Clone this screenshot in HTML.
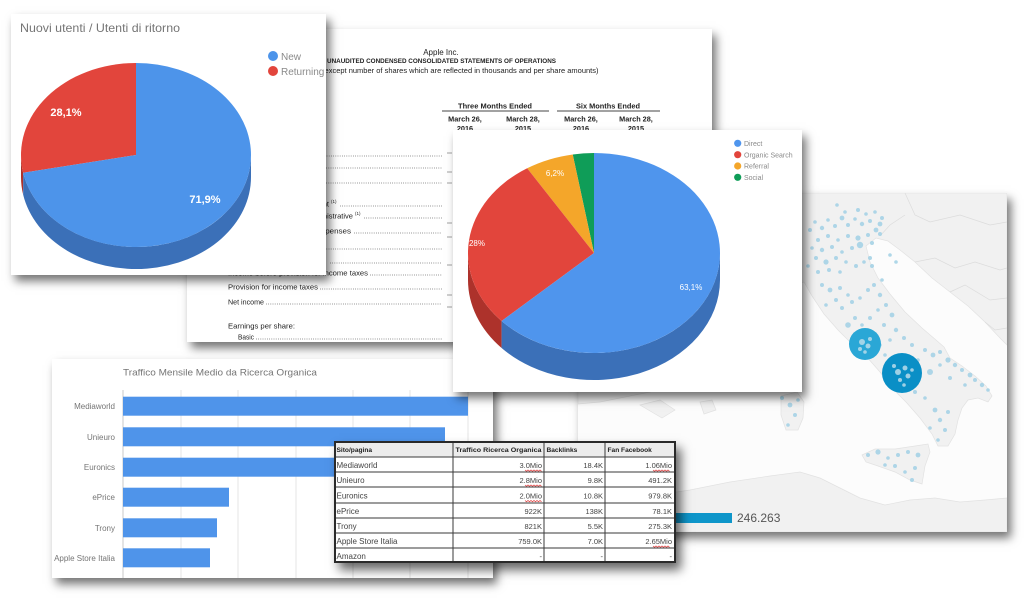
<!DOCTYPE html>
<html><head><meta charset="utf-8">
<style>
html,body{margin:0;padding:0;}
body{width:1024px;height:598px;background:#fff;position:relative;overflow:hidden;font-family:"Liberation Sans",sans-serif;}
.p{position:absolute;background:#fff;box-shadow:4px 6px 9px rgba(0,0,0,0.55);}
.p svg{position:absolute;left:0;top:0;display:block;}
</style></head>
<body>

<!-- MAP -->
<div class="p" style="left:578px;top:193px;width:429px;height:339px;z-index:1;background:#fcfcfc;">
<svg width="429" height="339" viewBox="0 0 429 339">
<g transform="translate(-578,-193)">
<polygon fill="#f1f1f1" stroke="#e2e2e2" stroke-width="0.7" points="578,193 1007,193 1007,345 1000,338 985,322 968,306 950,292 932,278 915,262 900,250 888,241 876,238 866,246 870,262 878,278 890,294 905,312 922,328 936,340 944,347 950,358 962,366 975,376 986,386 992,396 988,402 978,398 968,400 962,408 958,420 955,434 948,446 938,446 932,434 920,418 906,402 892,388 880,372 866,356 852,344 838,330 824,314 812,296 804,282 790,285 760,300 730,320 700,350 680,375 650,392 620,398 600,402 578,404"/>
<polyline fill="none" stroke="#dcdcdc" stroke-width="0.7" points="905,193 915,215 930,222 960,215 990,225 1007,222"/>
<polyline fill="none" stroke="#dcdcdc" stroke-width="0.7" points="915,262 935,258 955,268 975,262 1000,270 1007,268"/>
<polyline fill="none" stroke="#dcdcdc" stroke-width="0.7" points="950,292 965,285 990,300 1007,298"/>
<polyline fill="none" stroke="#dcdcdc" stroke-width="0.7" points="880,236 890,225 905,215"/>
<polyline fill="none" stroke="#dcdcdc" stroke-width="0.7" points="985,322 995,330 1007,328"/>
<polygon fill="#f1f1f1" stroke="#e2e2e2" stroke-width="0.7" points="781,396 797,392 804,402 803,418 798,430 786,430 781,415"/>
<polygon fill="#f1f1f1" stroke="#e2e2e2" stroke-width="0.7" points="862,455 875,449 895,449 915,446 928,444 930,452 925,466 922,484 910,480 895,472 878,466 866,462"/>
<polygon fill="#f1f1f1" stroke="#e2e2e2" stroke-width="0.7" points="578,505 610,500 650,496 690,490 730,482 770,476 800,472 820,478 840,488 860,498 885,505 910,500 935,498 960,502 985,500 1007,498 1007,532 578,532"/>
<polygon fill="#f1f1f1" stroke="#e2e2e2" stroke-width="0.7" points="640,405 660,400 675,410 662,418"/>
<polygon fill="#f1f1f1" stroke="#e2e2e2" stroke-width="0.7" points="700,402 712,400 716,410 704,414"/>
<g fill="#a6d3e6" opacity="0.9">
<circle cx="810" cy="230" r="2"/><circle cx="815" cy="222" r="1.8"/><circle cx="822" cy="228" r="2.2"/><circle cx="828" cy="220" r="1.8"/><circle cx="835" cy="226" r="2"/><circle cx="842" cy="218" r="2.4"/><circle cx="848" cy="225" r="2"/><circle cx="855" cy="219" r="1.8"/><circle cx="862" cy="224" r="2.2"/><circle cx="870" cy="221" r="2"/><circle cx="876" cy="230" r="2.4"/><circle cx="868" cy="235" r="2"/><circle cx="858" cy="238" r="2.6"/><circle cx="848" cy="236" r="2"/><circle cx="838" cy="240" r="1.8"/><circle cx="828" cy="236" r="2"/><circle cx="818" cy="240" r="2"/><circle cx="812" cy="248" r="1.8"/><circle cx="822" cy="250" r="2.2"/><circle cx="832" cy="247" r="2"/><circle cx="842" cy="252" r="1.8"/><circle cx="852" cy="248" r="2"/><circle cx="860" cy="245" r="3.2"/><circle cx="872" cy="243" r="2"/><circle cx="880" cy="224" r="2.4"/><circle cx="837" cy="205" r="1.8"/><circle cx="845" cy="212" r="1.8"/><circle cx="858" cy="210" r="2"/><circle cx="866" cy="214" r="1.8"/><circle cx="875" cy="212" r="1.8"/><circle cx="882" cy="218" r="2"/><circle cx="880" cy="234" r="2"/><circle cx="816" cy="258" r="2"/><circle cx="826" cy="262" r="2.6"/><circle cx="836" cy="258" r="2"/><circle cx="846" cy="262" r="1.8"/><circle cx="856" cy="266" r="2"/><circle cx="864" cy="262" r="1.8"/><circle cx="870" cy="258" r="2"/><circle cx="808" cy="266" r="1.8"/><circle cx="818" cy="272" r="2"/><circle cx="829" cy="270" r="2"/><circle cx="840" cy="272" r="1.8"/>
<circle cx="822" cy="285" r="2"/><circle cx="830" cy="290" r="2.4"/><circle cx="840" cy="288" r="2"/><circle cx="848" cy="295" r="1.8"/><circle cx="836" cy="300" r="2"/><circle cx="826" cy="305" r="1.8"/><circle cx="842" cy="308" r="2"/><circle cx="852" cy="302" r="2"/><circle cx="860" cy="298" r="1.8"/><circle cx="868" cy="290" r="2"/><circle cx="874" cy="285" r="2"/><circle cx="880" cy="295" r="2.2"/><circle cx="886" cy="305" r="2"/><circle cx="892" cy="315" r="2.4"/><circle cx="878" cy="310" r="1.8"/><circle cx="870" cy="318" r="2"/><circle cx="862" cy="325" r="1.8"/><circle cx="855" cy="318" r="2"/><circle cx="848" cy="325" r="2.8"/><circle cx="884" cy="325" r="2"/><circle cx="896" cy="330" r="2.2"/><circle cx="904" cy="338" r="2"/><circle cx="912" cy="345" r="2"/><circle cx="890" cy="340" r="1.8"/><circle cx="880" cy="345" r="1.8"/><circle cx="885" cy="355" r="1.8"/>
<circle cx="925" cy="350" r="2"/><circle cx="933" cy="355" r="2.4"/><circle cx="940" cy="352" r="2"/><circle cx="948" cy="360" r="2.6"/><circle cx="955" cy="365" r="2.2"/><circle cx="962" cy="370" r="2"/><circle cx="970" cy="375" r="2.4"/><circle cx="975" cy="380" r="2"/><circle cx="982" cy="385" r="2.2"/><circle cx="988" cy="390" r="1.8"/><circle cx="940" cy="365" r="1.8"/><circle cx="930" cy="372" r="3"/><circle cx="918" cy="360" r="1.8"/><circle cx="950" cy="378" r="2"/><circle cx="965" cy="385" r="1.8"/>
<circle cx="935" cy="410" r="2.4"/><circle cx="940" cy="420" r="2.2"/><circle cx="945" cy="430" r="2"/><circle cx="938" cy="440" r="1.8"/><circle cx="948" cy="412" r="2"/><circle cx="925" cy="398" r="1.8"/><circle cx="915" cy="392" r="2"/><circle cx="930" cy="428" r="1.8"/>
<circle cx="868" cy="455" r="2"/><circle cx="878" cy="452" r="2.6"/><circle cx="888" cy="458" r="1.8"/><circle cx="898" cy="455" r="2"/><circle cx="908" cy="452" r="2"/><circle cx="918" cy="455" r="2.4"/><circle cx="915" cy="468" r="2"/><circle cx="905" cy="472" r="1.8"/><circle cx="895" cy="466" r="2"/><circle cx="885" cy="465" r="1.8"/><circle cx="912" cy="480" r="2"/>
<circle cx="782" cy="398" r="2"/><circle cx="790" cy="405" r="2.4"/><circle cx="795" cy="415" r="2"/><circle cx="788" cy="425" r="1.8"/><circle cx="798" cy="400" r="1.8"/>
<circle cx="890" cy="255" r="1.8"/><circle cx="896" cy="262" r="1.8"/><circle cx="872" cy="266" r="2"/><circle cx="882" cy="280" r="1.8"/>
</g>
<circle cx="865" cy="344" r="16" fill="#2aa7d6"/>
<circle cx="902" cy="373" r="20" fill="#0a8fc6"/>
<g fill="#b8dceb" opacity="0.85">
<circle cx="862" cy="342" r="3"/><circle cx="868" cy="346" r="2.5"/><circle cx="860" cy="349" r="2"/><circle cx="870" cy="339" r="2"/><circle cx="865" cy="352" r="1.8"/>
<circle cx="898" cy="372" r="3"/><circle cx="905" cy="368" r="2.5"/><circle cx="908" cy="376" r="2.5"/><circle cx="900" cy="380" r="2"/><circle cx="894" cy="366" r="2"/><circle cx="912" cy="370" r="1.8"/><circle cx="904" cy="385" r="1.8"/>
</g>
<rect x="600" y="513" width="132" height="10" fill="#0e96ca"/>
<text x="737" y="522" font-size="12" fill="#555">246.263</text>
</g>
</svg>
</div>

<!-- DOCUMENT -->
<div class="p" style="left:187px;top:29px;width:525px;height:313px;z-index:2;">
<svg width="525" height="313" viewBox="0 0 525 313">
<g transform="translate(-187,-29)" fill="#222" font-family="Liberation Sans, sans-serif">
<text x="441" y="55" text-anchor="middle" font-size="8">Apple Inc.</text>
<text x="441.5" y="63" text-anchor="middle" font-size="6.6" font-weight="bold" textLength="229" lengthAdjust="spacingAndGlyphs">UNAUDITED CONDENSED CONSOLIDATED STATEMENTS OF OPERATIONS</text>
<text x="441.5" y="73" text-anchor="middle" font-size="7.5" textLength="314" lengthAdjust="spacingAndGlyphs">(In millions, except number of shares which are reflected in thousands and per share amounts)</text>
<text x="495" y="108.5" text-anchor="middle" font-size="7.5" font-weight="bold" textLength="74" lengthAdjust="spacingAndGlyphs">Three Months Ended</text>
<text x="608" y="108.5" text-anchor="middle" font-size="7.5" font-weight="bold" textLength="64" lengthAdjust="spacingAndGlyphs">Six Months Ended</text>
<line x1="442" y1="111" x2="549" y2="111" stroke="#444" stroke-width="0.9"/>
<line x1="557" y1="111" x2="660" y2="111" stroke="#444" stroke-width="0.9"/>
<g font-size="7.3" font-weight="bold" text-anchor="middle">
<text x="465" y="121.5">March 26,</text><text x="523" y="121.5">March 28,</text><text x="581" y="121.5">March 26,</text><text x="636" y="121.5">March 28,</text>
<text x="465" y="131">2016</text><text x="523" y="131">2015</text><text x="581" y="131">2016</text><text x="636" y="131">2015</text>
</g>
<g font-size="7.5">
<text x="228" y="156.5">Net sales</text>
<text x="228" y="168.5">Cost of sales</text>
<text x="228" y="183.5">Gross margin</text>
<text x="238" y="206.5" textLength="91" lengthAdjust="spacingAndGlyphs">Research and development</text>
<text x="331" y="203" font-size="4.5">(1)</text>
<text x="238" y="218.5" textLength="115" lengthAdjust="spacingAndGlyphs">Selling, general and administrative</text>
<text x="355" y="215" font-size="4.5">(1)</text>
<text x="262" y="233.5" textLength="89" lengthAdjust="spacingAndGlyphs">Total operating expenses</text>
<text x="228" y="249.5">Operating income</text>
<text x="228" y="263.5">Other income/(expense), net</text>
<text x="228" y="275.5" textLength="140" lengthAdjust="spacingAndGlyphs">Income before provision for income taxes</text>
<text x="228" y="289.5" textLength="90" lengthAdjust="spacingAndGlyphs">Provision for income taxes</text>
<text x="228" y="304.5" textLength="36" lengthAdjust="spacingAndGlyphs">Net income</text>
<text x="228" y="328.5" textLength="67" lengthAdjust="spacingAndGlyphs">Earnings per share:</text>
<text x="238" y="339.5" textLength="16" lengthAdjust="spacingAndGlyphs">Basic</text>
</g>
<g stroke="#555" stroke-width="0.8" stroke-dasharray="0.8 1.4">
<line x1="265" y1="156" x2="442" y2="156"/>
<line x1="280" y1="168" x2="442" y2="168"/>
<line x1="280" y1="183" x2="442" y2="183"/>
<line x1="340" y1="206" x2="442" y2="206"/>
<line x1="364" y1="218" x2="442" y2="218"/>
<line x1="354" y1="233" x2="442" y2="233"/>
<line x1="300" y1="249" x2="442" y2="249"/>
<line x1="330" y1="263" x2="442" y2="263"/>
<line x1="370" y1="275" x2="442" y2="275"/>
<line x1="320" y1="289" x2="442" y2="289"/>
<line x1="266" y1="304" x2="442" y2="304"/>
<line x1="256" y1="339" x2="442" y2="339"/>
</g>
<g stroke="#888" stroke-width="0.8">
<line x1="447" y1="153" x2="452" y2="153"/><line x1="447" y1="172" x2="452" y2="172"/><line x1="447" y1="183" x2="452" y2="183"/><line x1="447" y1="223" x2="452" y2="223"/><line x1="447" y1="237" x2="452" y2="237"/><line x1="447" y1="265" x2="452" y2="265"/><line x1="447" y1="295" x2="452" y2="295"/><line x1="447" y1="307" x2="452" y2="307"/>
</g>
</g>
</svg>
</div>

<!-- PIE 1 -->
<div class="p" style="left:11px;top:14px;width:315px;height:261px;z-index:3;">
<svg width="315" height="261" viewBox="0 0 315 261">
<text x="9" y="18" font-size="12" fill="#757575" textLength="160" lengthAdjust="spacingAndGlyphs">Nuovi utenti / Utenti di ritorno</text>
<circle cx="262" cy="42" r="5" fill="#4d94ea"/>
<circle cx="262" cy="57" r="5" fill="#e2453c"/>
<text x="270" y="46" font-size="10" fill="#8a8a8a">New</text>
<text x="270" y="61" font-size="10" fill="#8a8a8a">Returning</text>
<path d="M10,141 A115,92 0 0 0 12.17,158.81 L12.17,180.81 A115,92 0 0 1 10,163 Z" fill="#ad322b"/>
<path d="M12.17,158.81 A115,92 0 0 0 240,141 L240,163 A115,92 0 0 1 12.17,180.81 Z" fill="#3b70b8"/>
<path d="M125,141 L125,49 A115,92 0 0 0 12.17,158.81 Z" fill="#e2453c"/>
<path d="M125,141 L12.17,158.81 A115,92 0 1 0 125,49 Z" fill="#4d94ea"/>
<text x="55" y="102" font-size="11" font-weight="bold" fill="#fff" text-anchor="middle">28,1%</text>
<text x="194" y="189" font-size="11" font-weight="bold" fill="#fff" text-anchor="middle">71,9%</text>
</svg>
</div>

<!-- BAR CHART -->
<div class="p" style="left:52px;top:359px;width:441px;height:219px;z-index:4;">
<svg width="441" height="219" viewBox="0 0 441 219">
<text x="71" y="16.5" font-size="9.5" fill="#757575" textLength="194" lengthAdjust="spacingAndGlyphs">Traffico Mensile Medio da Ricerca Organica</text>
<g stroke="#e4e4e4" stroke-width="1">
<line x1="129" y1="31" x2="129" y2="219"/><line x1="186" y1="31" x2="186" y2="219"/><line x1="244" y1="31" x2="244" y2="219"/><line x1="301" y1="31" x2="301" y2="219"/><line x1="358" y1="31" x2="358" y2="219"/><line x1="416" y1="31" x2="416" y2="219"/>
</g>
<line x1="71" y1="31" x2="71" y2="219" stroke="#c8c8c8" stroke-width="1"/>
<g fill="#4f94ea">
<rect x="71" y="37.7" width="345" height="19"/>
<rect x="71" y="68.3" width="322" height="19"/>
<rect x="71" y="98.7" width="230" height="19"/>
<rect x="71" y="128.7" width="106" height="19"/>
<rect x="71" y="159.3" width="94" height="19"/>
<rect x="71" y="189.3" width="87" height="19"/>
</g>
<g font-size="8" fill="#757575" text-anchor="end">
<text x="63" y="50">Mediaworld</text>
<text x="63" y="81">Unieuro</text>
<text x="63" y="111">Euronics</text>
<text x="63" y="141">ePrice</text>
<text x="63" y="172">Trony</text>
<text x="63" y="202">Apple Store Italia</text>
</g>
</svg>
</div>

<!-- PIE 2 -->
<div class="p" style="left:453px;top:130px;width:349px;height:262px;z-index:5;">
<svg width="349" height="262" viewBox="0 0 349 262">
<path d="M15,123 A126,100 0 0 0 48.60,190.99 L48.60,217.99 A126,100 0 0 1 15,150 Z" fill="#ad322b"/>
<path d="M48.60,190.99 A126,100 0 0 0 267,123 L267,150 A126,100 0 0 1 48.60,217.99 Z" fill="#3b70b8"/>
<path d="M141,123 L141,23 A126,100 0 0 0 119.72,24.44 Z" fill="#0f9d58"/>
<path d="M141,123 L119.72,24.44 A126,100 0 0 0 74.16,38.23 Z" fill="#f4a62a"/>
<path d="M141,123 L74.16,38.23 A126,100 0 0 0 48.60,190.99 Z" fill="#e2453c"/>
<path d="M141,123 L48.60,190.99 A126,100 0 1 0 141,23 Z" fill="#4f95ed"/>
<text x="102" y="46" font-size="8" fill="#fff" text-anchor="middle">6,2%</text>
<text x="24" y="116" font-size="8" fill="#fff" text-anchor="middle">28%</text>
<text x="238" y="160" font-size="8" fill="#fff" text-anchor="middle">63,1%</text>
<circle cx="284.7" cy="13.3" r="3.6" fill="#4f95ed"/>
<circle cx="284.7" cy="24.7" r="3.6" fill="#e2453c"/>
<circle cx="284.7" cy="36" r="3.6" fill="#f4a62a"/>
<circle cx="284.7" cy="47.3" r="3.6" fill="#0f9d58"/>
<g font-size="7" fill="#8a8a8a">
<text x="291" y="16">Direct</text>
<text x="291" y="27.4">Organic Search</text>
<text x="291" y="38.7">Referral</text>
<text x="291" y="50">Social</text>
</g>
</svg>
</div>

<!-- TABLE -->
<div class="p" style="left:334px;top:441px;width:342px;height:122px;z-index:6;box-shadow:5px 7px 10px rgba(0,0,0,0.6);">
<svg width="342" height="122" viewBox="0 0 342 122">
<rect x="0" y="0" width="342" height="16" fill="#ececec"/>
<g stroke="#3a3a3a" stroke-width="1">
<line x1="0" y1="16" x2="342" y2="16"/><line x1="0" y1="31" x2="342" y2="31"/><line x1="0" y1="46" x2="342" y2="46"/><line x1="0" y1="62" x2="342" y2="62"/><line x1="0" y1="77" x2="342" y2="77"/><line x1="0" y1="92" x2="342" y2="92"/><line x1="0" y1="107" x2="342" y2="107"/>
<line x1="119" y1="0" x2="119" y2="122"/><line x1="210" y1="0" x2="210" y2="122"/><line x1="271" y1="0" x2="271" y2="122"/>
</g>
<rect x="1" y="1" width="340" height="120" fill="none" stroke="#2a2a2a" stroke-width="2"/>
<g font-size="6.6" font-weight="bold" fill="#222">
<text x="2.5" y="11">Sito/pagina</text>
<text x="121.5" y="11" textLength="86" lengthAdjust="spacingAndGlyphs">Traffico Ricerca Organica</text>
<text x="212.5" y="11">Backlinks</text>
<text x="273.5" y="11">Fan Facebook</text>
</g>
<g font-size="8" fill="#444">
<text x="2.5" y="27">Mediaworld</text>
<text x="2.5" y="42">Unieuro</text>
<text x="2.5" y="57.5">Euronics</text>
<text x="2.5" y="73">ePrice</text>
<text x="2.5" y="88">Trony</text>
<text x="2.5" y="103">Apple Store Italia</text>
<text x="2.5" y="118">Amazon</text>
</g>
<g font-size="7.5" fill="#444" text-anchor="end">
<text x="208" y="27">3.0Mio</text><text x="269" y="27">18.4K</text><text x="338" y="27">1.06Mio</text>
<text x="208" y="42">2.8Mio</text><text x="269" y="42">9.8K</text><text x="338" y="42">491.2K</text>
<text x="208" y="57.5">2.0Mio</text><text x="269" y="57.5">10.8K</text><text x="338" y="57.5">979.8K</text>
<text x="208" y="73">922K</text><text x="269" y="73">138K</text><text x="338" y="73">78.1K</text>
<text x="208" y="88">821K</text><text x="269" y="88">5.5K</text><text x="338" y="88">275.3K</text>
<text x="208" y="103">759.0K</text><text x="269" y="103">7.0K</text><text x="338" y="103">2.65Mio</text>
<text x="208" y="118">-</text><text x="269" y="118">-</text><text x="338" y="118">-</text>
</g>
<g fill="none" stroke="#e04040" stroke-width="0.7">
<polyline points="191,29 192.5,30.3 194,29 195.5,30.3 197,29 198.5,30.3 200,29 201.5,30.3 203,29 204.5,30.3 206,29 207.5,30.3"/>
<polyline points="191,44 192.5,45.3 194,44 195.5,45.3 197,44 198.5,45.3 200,44 201.5,45.3 203,44 204.5,45.3 206,44 207.5,45.3"/>
<polyline points="191,59.5 192.5,60.8 194,59.5 195.5,60.8 197,59.5 198.5,60.8 200,59.5 201.5,60.8 203,59.5 204.5,60.8 206,59.5 207.5,60.8"/>
<polyline points="319,29 320.5,30.3 322,29 323.5,30.3 325,29 326.5,30.3 328,29 329.5,30.3 331,29 332.5,30.3 334,29 335.5,30.3"/>
<polyline points="319,105 320.5,106.3 322,105 323.5,106.3 325,105 326.5,106.3 328,105 329.5,106.3 331,105 332.5,106.3 334,105 335.5,106.3"/>
</g>
</svg>
</div>

</body></html>
